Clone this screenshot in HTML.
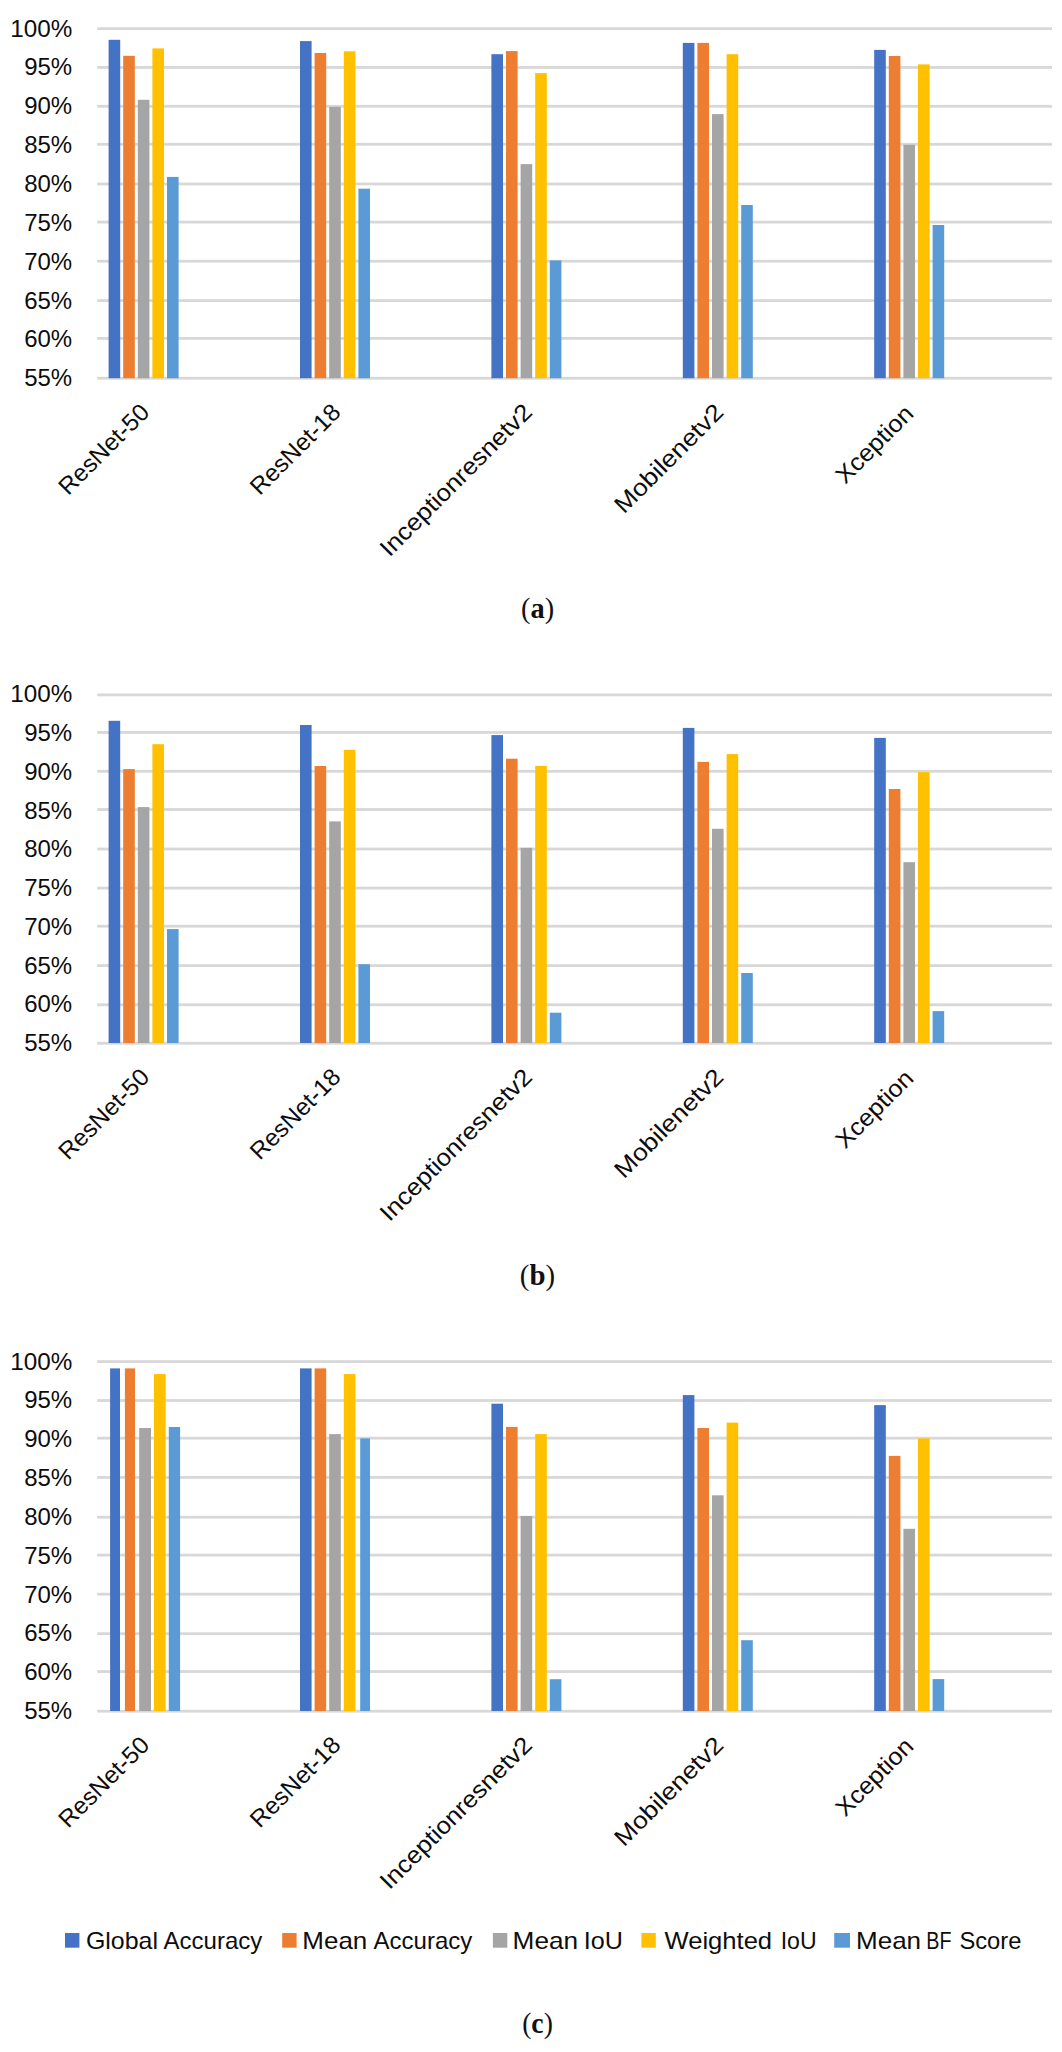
<!DOCTYPE html>
<html><head><meta charset="utf-8"><title>Figure</title>
<style>
html,body{margin:0;padding:0;background:#fff;overflow:hidden}
svg{display:block}
.s{font-family:"Liberation Sans",sans-serif;fill:#0d0d0d}
.c{font-family:"Liberation Serif",serif;fill:#111}
</style></head><body>
<svg width="1062" height="2052" viewBox="0 0 1062 2052">
<rect width="1062" height="2052" fill="#fff"/>
<g id="chart0">
<rect x="97.2" y="27.25" width="954.8" height="2.8" fill="#D8D8D8"/>
<text class="s" x="72.2" y="36.60" font-size="24.4" text-anchor="end" textLength="62.0" lengthAdjust="spacingAndGlyphs">100%</text>
<rect x="97.2" y="66.05" width="954.8" height="2.8" fill="#D8D8D8"/>
<text class="s" x="72.2" y="75.46" font-size="24.4" text-anchor="end" textLength="48.0" lengthAdjust="spacingAndGlyphs">95%</text>
<rect x="97.2" y="104.90" width="954.8" height="2.8" fill="#D8D8D8"/>
<text class="s" x="72.2" y="114.31" font-size="24.4" text-anchor="end" textLength="48.0" lengthAdjust="spacingAndGlyphs">90%</text>
<rect x="97.2" y="142.90" width="954.8" height="2.8" fill="#D8D8D8"/>
<text class="s" x="72.2" y="153.17" font-size="24.4" text-anchor="end" textLength="48.0" lengthAdjust="spacingAndGlyphs">85%</text>
<rect x="97.2" y="182.60" width="954.8" height="2.8" fill="#D8D8D8"/>
<text class="s" x="72.2" y="192.02" font-size="24.4" text-anchor="end" textLength="48.0" lengthAdjust="spacingAndGlyphs">80%</text>
<rect x="97.2" y="220.70" width="954.8" height="2.8" fill="#D8D8D8"/>
<text class="s" x="72.2" y="230.88" font-size="24.4" text-anchor="end" textLength="48.0" lengthAdjust="spacingAndGlyphs">75%</text>
<rect x="97.2" y="259.80" width="954.8" height="2.8" fill="#D8D8D8"/>
<text class="s" x="72.2" y="269.73" font-size="24.4" text-anchor="end" textLength="48.0" lengthAdjust="spacingAndGlyphs">70%</text>
<rect x="97.2" y="299.20" width="954.8" height="2.8" fill="#D8D8D8"/>
<text class="s" x="72.2" y="308.59" font-size="24.4" text-anchor="end" textLength="48.0" lengthAdjust="spacingAndGlyphs">65%</text>
<rect x="97.2" y="337.00" width="954.8" height="2.8" fill="#D8D8D8"/>
<text class="s" x="72.2" y="347.44" font-size="24.4" text-anchor="end" textLength="48.0" lengthAdjust="spacingAndGlyphs">60%</text>
<rect x="97.2" y="376.85" width="954.8" height="2.8" fill="#D8D8D8"/>
<text class="s" x="72.2" y="386.30" font-size="24.4" text-anchor="end" textLength="48.0" lengthAdjust="spacingAndGlyphs">55%</text>
<rect x="108.6" y="39.8" width="11.6" height="338.4" fill="#4472C4"/>
<rect x="123.2" y="55.8" width="11.6" height="322.4" fill="#ED7D31"/>
<rect x="137.8" y="99.8" width="11.6" height="278.4" fill="#A5A5A5"/>
<rect x="152.4" y="48.4" width="11.6" height="329.8" fill="#FFC000"/>
<rect x="167.0" y="176.9" width="11.6" height="201.3" fill="#5B9BD5"/>
<rect x="300.0" y="41.1" width="11.6" height="337.1" fill="#4472C4"/>
<rect x="314.6" y="53.0" width="11.6" height="325.2" fill="#ED7D31"/>
<rect x="329.2" y="106.8" width="11.6" height="271.4" fill="#A5A5A5"/>
<rect x="343.8" y="51.3" width="11.6" height="326.9" fill="#FFC000"/>
<rect x="358.4" y="188.7" width="11.6" height="189.5" fill="#5B9BD5"/>
<rect x="491.4" y="54.2" width="11.6" height="324.0" fill="#4472C4"/>
<rect x="506.0" y="51.1" width="11.6" height="327.1" fill="#ED7D31"/>
<rect x="520.6" y="164.1" width="11.6" height="214.1" fill="#A5A5A5"/>
<rect x="535.2" y="73.1" width="11.6" height="305.1" fill="#FFC000"/>
<rect x="549.8" y="260.4" width="11.6" height="117.8" fill="#5B9BD5"/>
<rect x="682.8" y="42.9" width="11.6" height="335.3" fill="#4472C4"/>
<rect x="697.4" y="42.9" width="11.6" height="335.3" fill="#ED7D31"/>
<rect x="712.0" y="114.1" width="11.6" height="264.1" fill="#A5A5A5"/>
<rect x="726.6" y="54.2" width="11.6" height="324.0" fill="#FFC000"/>
<rect x="741.2" y="205.0" width="11.6" height="173.2" fill="#5B9BD5"/>
<rect x="874.2" y="49.9" width="11.6" height="328.3" fill="#4472C4"/>
<rect x="888.8" y="56.0" width="11.6" height="322.2" fill="#ED7D31"/>
<rect x="903.4" y="144.8" width="11.6" height="233.4" fill="#A5A5A5"/>
<rect x="918.0" y="64.4" width="11.6" height="313.8" fill="#FFC000"/>
<rect x="932.6" y="225.0" width="11.6" height="153.2" fill="#5B9BD5"/>
<text class="s" font-size="24" text-anchor="end" transform="translate(150.8,413.7) rotate(-45)" textLength="116.6" lengthAdjust="spacingAndGlyphs">ResNet-50</text>
<text class="s" font-size="24" text-anchor="end" transform="translate(342.2,413.7) rotate(-45)" textLength="116.6" lengthAdjust="spacingAndGlyphs">ResNet-18</text>
<text class="s" font-size="24" text-anchor="end" transform="translate(533.6,413.7) rotate(-45)" textLength="203.7" lengthAdjust="spacingAndGlyphs">Inceptionresnetv2</text>
<text class="s" font-size="24" text-anchor="end" transform="translate(725.0,413.7) rotate(-45)" textLength="142.7" lengthAdjust="spacingAndGlyphs">Mobilenetv2</text>
<text class="s" font-size="24" text-anchor="end" transform="translate(915.0,415.1) rotate(-45)" textLength="98.7" lengthAdjust="spacingAndGlyphs">Xception</text>
</g>
<g id="chart1">
<rect x="97.2" y="693.50" width="954.8" height="2.8" fill="#D8D8D8"/>
<text class="s" x="72.2" y="702.30" font-size="24.4" text-anchor="end" textLength="62.0" lengthAdjust="spacingAndGlyphs">100%</text>
<rect x="97.2" y="731.05" width="954.8" height="2.8" fill="#D8D8D8"/>
<text class="s" x="72.2" y="741.06" font-size="24.4" text-anchor="end" textLength="48.0" lengthAdjust="spacingAndGlyphs">95%</text>
<rect x="97.2" y="769.90" width="954.8" height="2.8" fill="#D8D8D8"/>
<text class="s" x="72.2" y="779.81" font-size="24.4" text-anchor="end" textLength="48.0" lengthAdjust="spacingAndGlyphs">90%</text>
<rect x="97.2" y="808.10" width="954.8" height="2.8" fill="#D8D8D8"/>
<text class="s" x="72.2" y="818.57" font-size="24.4" text-anchor="end" textLength="48.0" lengthAdjust="spacingAndGlyphs">85%</text>
<rect x="97.2" y="847.60" width="954.8" height="2.8" fill="#D8D8D8"/>
<text class="s" x="72.2" y="857.32" font-size="24.4" text-anchor="end" textLength="48.0" lengthAdjust="spacingAndGlyphs">80%</text>
<rect x="97.2" y="886.70" width="954.8" height="2.8" fill="#D8D8D8"/>
<text class="s" x="72.2" y="896.08" font-size="24.4" text-anchor="end" textLength="48.0" lengthAdjust="spacingAndGlyphs">75%</text>
<rect x="97.2" y="924.80" width="954.8" height="2.8" fill="#D8D8D8"/>
<text class="s" x="72.2" y="934.83" font-size="24.4" text-anchor="end" textLength="48.0" lengthAdjust="spacingAndGlyphs">70%</text>
<rect x="97.2" y="964.20" width="954.8" height="2.8" fill="#D8D8D8"/>
<text class="s" x="72.2" y="973.59" font-size="24.4" text-anchor="end" textLength="48.0" lengthAdjust="spacingAndGlyphs">65%</text>
<rect x="97.2" y="1003.40" width="954.8" height="2.8" fill="#D8D8D8"/>
<text class="s" x="72.2" y="1012.34" font-size="24.4" text-anchor="end" textLength="48.0" lengthAdjust="spacingAndGlyphs">60%</text>
<rect x="97.2" y="1041.85" width="954.8" height="2.8" fill="#D8D8D8"/>
<text class="s" x="72.2" y="1051.10" font-size="24.4" text-anchor="end" textLength="48.0" lengthAdjust="spacingAndGlyphs">55%</text>
<rect x="108.6" y="720.8" width="11.6" height="322.2" fill="#4472C4"/>
<rect x="123.2" y="769.1" width="11.6" height="273.9" fill="#ED7D31"/>
<rect x="137.8" y="807.1" width="11.6" height="235.9" fill="#A5A5A5"/>
<rect x="152.4" y="744.2" width="11.6" height="298.8" fill="#FFC000"/>
<rect x="167.0" y="929.1" width="11.6" height="113.9" fill="#5B9BD5"/>
<rect x="300.0" y="725.0" width="11.6" height="318.0" fill="#4472C4"/>
<rect x="314.6" y="766.0" width="11.6" height="277.0" fill="#ED7D31"/>
<rect x="329.2" y="821.4" width="11.6" height="221.6" fill="#A5A5A5"/>
<rect x="343.8" y="749.8" width="11.6" height="293.2" fill="#FFC000"/>
<rect x="358.4" y="964.2" width="11.6" height="78.8" fill="#5B9BD5"/>
<rect x="491.4" y="735.1" width="11.6" height="307.9" fill="#4472C4"/>
<rect x="506.0" y="758.7" width="11.6" height="284.3" fill="#ED7D31"/>
<rect x="520.6" y="847.8" width="11.6" height="195.2" fill="#A5A5A5"/>
<rect x="535.2" y="765.9" width="11.6" height="277.1" fill="#FFC000"/>
<rect x="549.8" y="1012.7" width="11.6" height="30.3" fill="#5B9BD5"/>
<rect x="682.8" y="727.9" width="11.6" height="315.1" fill="#4472C4"/>
<rect x="697.4" y="761.9" width="11.6" height="281.1" fill="#ED7D31"/>
<rect x="712.0" y="828.8" width="11.6" height="214.2" fill="#A5A5A5"/>
<rect x="726.6" y="754.1" width="11.6" height="288.9" fill="#FFC000"/>
<rect x="741.2" y="973.0" width="11.6" height="70.0" fill="#5B9BD5"/>
<rect x="874.2" y="737.9" width="11.6" height="305.1" fill="#4472C4"/>
<rect x="888.8" y="789.0" width="11.6" height="254.0" fill="#ED7D31"/>
<rect x="903.4" y="862.2" width="11.6" height="180.8" fill="#A5A5A5"/>
<rect x="918.0" y="772.1" width="11.6" height="270.9" fill="#FFC000"/>
<rect x="932.6" y="1011.1" width="11.6" height="31.9" fill="#5B9BD5"/>
<text class="s" font-size="24" text-anchor="end" transform="translate(150.8,1078.5) rotate(-45)" textLength="116.6" lengthAdjust="spacingAndGlyphs">ResNet-50</text>
<text class="s" font-size="24" text-anchor="end" transform="translate(342.2,1078.5) rotate(-45)" textLength="116.6" lengthAdjust="spacingAndGlyphs">ResNet-18</text>
<text class="s" font-size="24" text-anchor="end" transform="translate(533.6,1078.5) rotate(-45)" textLength="203.7" lengthAdjust="spacingAndGlyphs">Inceptionresnetv2</text>
<text class="s" font-size="24" text-anchor="end" transform="translate(725.0,1078.5) rotate(-45)" textLength="142.7" lengthAdjust="spacingAndGlyphs">Mobilenetv2</text>
<text class="s" font-size="24" text-anchor="end" transform="translate(915.0,1079.9) rotate(-45)" textLength="98.7" lengthAdjust="spacingAndGlyphs">Xception</text>
</g>
<g id="chart2">
<rect x="97.2" y="1360.20" width="954.8" height="2.8" fill="#D8D8D8"/>
<text class="s" x="72.2" y="1369.50" font-size="24.4" text-anchor="end" textLength="62.0" lengthAdjust="spacingAndGlyphs">100%</text>
<rect x="97.2" y="1399.10" width="954.8" height="2.8" fill="#D8D8D8"/>
<text class="s" x="72.2" y="1408.34" font-size="24.4" text-anchor="end" textLength="48.0" lengthAdjust="spacingAndGlyphs">95%</text>
<rect x="97.2" y="1436.75" width="954.8" height="2.8" fill="#D8D8D8"/>
<text class="s" x="72.2" y="1447.19" font-size="24.4" text-anchor="end" textLength="48.0" lengthAdjust="spacingAndGlyphs">90%</text>
<rect x="97.2" y="1476.00" width="954.8" height="2.8" fill="#D8D8D8"/>
<text class="s" x="72.2" y="1486.03" font-size="24.4" text-anchor="end" textLength="48.0" lengthAdjust="spacingAndGlyphs">85%</text>
<rect x="97.2" y="1515.80" width="954.8" height="2.8" fill="#D8D8D8"/>
<text class="s" x="72.2" y="1524.88" font-size="24.4" text-anchor="end" textLength="48.0" lengthAdjust="spacingAndGlyphs">80%</text>
<rect x="97.2" y="1553.70" width="954.8" height="2.8" fill="#D8D8D8"/>
<text class="s" x="72.2" y="1563.72" font-size="24.4" text-anchor="end" textLength="48.0" lengthAdjust="spacingAndGlyphs">75%</text>
<rect x="97.2" y="1592.75" width="954.8" height="2.8" fill="#D8D8D8"/>
<text class="s" x="72.2" y="1602.57" font-size="24.4" text-anchor="end" textLength="48.0" lengthAdjust="spacingAndGlyphs">70%</text>
<rect x="97.2" y="1632.30" width="954.8" height="2.8" fill="#D8D8D8"/>
<text class="s" x="72.2" y="1641.41" font-size="24.4" text-anchor="end" textLength="48.0" lengthAdjust="spacingAndGlyphs">65%</text>
<rect x="97.2" y="1670.15" width="954.8" height="2.8" fill="#D8D8D8"/>
<text class="s" x="72.2" y="1680.26" font-size="24.4" text-anchor="end" textLength="48.0" lengthAdjust="spacingAndGlyphs">60%</text>
<rect x="97.2" y="1709.80" width="954.8" height="2.8" fill="#D8D8D8"/>
<text class="s" x="72.2" y="1719.10" font-size="24.4" text-anchor="end" textLength="48.0" lengthAdjust="spacingAndGlyphs">55%</text>
<rect x="110.1" y="1368.4" width="9.9" height="342.6" fill="#4472C4"/>
<rect x="124.9" y="1368.4" width="10.1" height="342.6" fill="#ED7D31"/>
<rect x="139.2" y="1428.0" width="11.8" height="283.0" fill="#A5A5A5"/>
<rect x="154.0" y="1374.1" width="11.7" height="336.9" fill="#FFC000"/>
<rect x="168.8" y="1427.0" width="11.3" height="284.0" fill="#5B9BD5"/>
<rect x="300.0" y="1368.4" width="11.6" height="342.6" fill="#4472C4"/>
<rect x="314.6" y="1368.4" width="11.6" height="342.6" fill="#ED7D31"/>
<rect x="329.2" y="1434.1" width="11.6" height="276.9" fill="#A5A5A5"/>
<rect x="343.8" y="1374.1" width="11.6" height="336.9" fill="#FFC000"/>
<rect x="360.2" y="1438.4" width="9.8" height="272.6" fill="#5B9BD5"/>
<rect x="491.4" y="1403.7" width="11.6" height="307.3" fill="#4472C4"/>
<rect x="506.0" y="1426.9" width="11.6" height="284.1" fill="#ED7D31"/>
<rect x="520.6" y="1516.0" width="11.6" height="195.0" fill="#A5A5A5"/>
<rect x="535.2" y="1434.1" width="11.6" height="276.9" fill="#FFC000"/>
<rect x="549.8" y="1679.2" width="11.6" height="31.8" fill="#5B9BD5"/>
<rect x="682.8" y="1395.1" width="11.6" height="315.9" fill="#4472C4"/>
<rect x="697.4" y="1428.0" width="11.6" height="283.0" fill="#ED7D31"/>
<rect x="712.0" y="1495.3" width="11.6" height="215.7" fill="#A5A5A5"/>
<rect x="726.6" y="1422.6" width="11.6" height="288.4" fill="#FFC000"/>
<rect x="741.2" y="1640.2" width="11.6" height="70.8" fill="#5B9BD5"/>
<rect x="874.2" y="1405.1" width="11.6" height="305.9" fill="#4472C4"/>
<rect x="888.8" y="1455.9" width="11.6" height="255.1" fill="#ED7D31"/>
<rect x="903.4" y="1528.8" width="11.6" height="182.2" fill="#A5A5A5"/>
<rect x="918.0" y="1438.4" width="11.6" height="272.6" fill="#FFC000"/>
<rect x="932.6" y="1679.1" width="11.6" height="31.9" fill="#5B9BD5"/>
<text class="s" font-size="24" text-anchor="end" transform="translate(150.8,1746.5) rotate(-45)" textLength="116.6" lengthAdjust="spacingAndGlyphs">ResNet-50</text>
<text class="s" font-size="24" text-anchor="end" transform="translate(342.2,1746.5) rotate(-45)" textLength="116.6" lengthAdjust="spacingAndGlyphs">ResNet-18</text>
<text class="s" font-size="24" text-anchor="end" transform="translate(533.6,1746.5) rotate(-45)" textLength="203.7" lengthAdjust="spacingAndGlyphs">Inceptionresnetv2</text>
<text class="s" font-size="24" text-anchor="end" transform="translate(725.0,1746.5) rotate(-45)" textLength="142.7" lengthAdjust="spacingAndGlyphs">Mobilenetv2</text>
<text class="s" font-size="24" text-anchor="end" transform="translate(915.0,1747.9) rotate(-45)" textLength="98.7" lengthAdjust="spacingAndGlyphs">Xception</text>
</g>
<text class="c" x="537.6" y="618.2" font-size="30" text-anchor="middle" textLength="33.1" lengthAdjust="spacingAndGlyphs">(<tspan font-weight="bold">a</tspan>)</text>
<text class="c" x="537.5" y="1285.1" font-size="30" text-anchor="middle" textLength="35.3" lengthAdjust="spacingAndGlyphs">(<tspan font-weight="bold">b</tspan>)</text>
<text class="c" x="537.5" y="2033" font-size="30" text-anchor="middle" textLength="30.7" lengthAdjust="spacingAndGlyphs">(<tspan font-weight="bold">c</tspan>)</text>
<rect x="65" y="1933" width="14.4" height="14.7" fill="#4472C4"/>
<text class="s" y="1948.6" font-size="24"><tspan x="85.9" textLength="72.1" lengthAdjust="spacingAndGlyphs">Global</tspan> <tspan x="163.6" textLength="98.7" lengthAdjust="spacingAndGlyphs">Accuracy</tspan></text>
<rect x="282.2" y="1933" width="14.4" height="14.7" fill="#ED7D31"/>
<text class="s" y="1948.6" font-size="24"><tspan x="302.3" textLength="65.0" lengthAdjust="spacingAndGlyphs">Mean</tspan> <tspan x="373.6" textLength="98.7" lengthAdjust="spacingAndGlyphs">Accuracy</tspan></text>
<rect x="492.9" y="1933" width="14.4" height="14.7" fill="#A5A5A5"/>
<text class="s" y="1948.6" font-size="24"><tspan x="512.6" textLength="65.5" lengthAdjust="spacingAndGlyphs">Mean</tspan> <tspan x="583.7" textLength="39.1" lengthAdjust="spacingAndGlyphs">IoU</tspan></text>
<rect x="641.4" y="1933" width="14.4" height="14.7" fill="#FFC000"/>
<text class="s" y="1948.6" font-size="24"><tspan x="664.5" textLength="107.6" lengthAdjust="spacingAndGlyphs">Weighted</tspan> <tspan x="780.7" textLength="35.9" lengthAdjust="spacingAndGlyphs">IoU</tspan></text>
<rect x="834.2" y="1933" width="15.8" height="14.7" fill="#5B9BD5"/>
<text class="s" y="1948.6" font-size="24"><tspan x="856.0" textLength="65.1" lengthAdjust="spacingAndGlyphs">Mean</tspan> <tspan x="926.3" textLength="25.2" lengthAdjust="spacingAndGlyphs">BF</tspan> <tspan x="959.4" textLength="62.0" lengthAdjust="spacingAndGlyphs">Score</tspan></text>
</svg>
</body></html>
